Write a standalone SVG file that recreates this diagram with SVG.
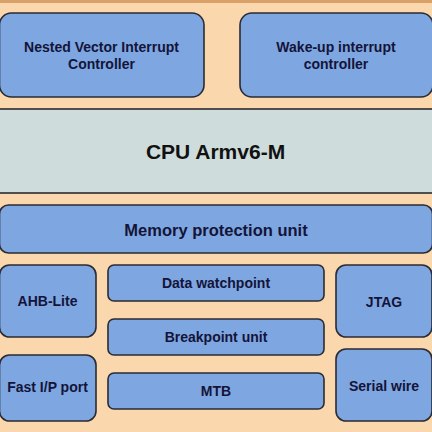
<svg xmlns="http://www.w3.org/2000/svg" width="432" height="432" viewBox="0 0 432 432">
<style>
.bx{fill:#7EA6E0;stroke:#2b2b33;stroke-width:1.6}
.t{font-family:"Liberation Sans",Arial,sans-serif;font-weight:bold;font-size:14px;fill:#14143a;text-anchor:middle}
</style>
<rect x="0" y="0" width="432" height="432" fill="#FAD7AC"/>
<rect x="0" y="0" width="432" height="3" fill="#D9A068"/>
<g id="connectors"/>
<g id="nvic">
<rect class="bx" x="-0.5" y="13" width="204.5" height="84" rx="12"/>
<text class="t" x="101.5" y="52">Nested Vector Interrupt</text>
<text class="t" x="101.5" y="69">Controller</text>
</g>
<g id="wic">
<rect class="bx" x="240" y="13" width="193" height="84" rx="12"/>
<text class="t" x="336" y="52">Wake-up interrupt</text>
<text class="t" x="336" y="69">controller</text>
</g>
<g id="cpu">
<rect x="-2" y="109" width="436" height="84" fill="#CFDCDC" stroke="#2b2b33" stroke-width="1.6"/>
<text x="215.5" y="158.5" style="font-family:'Liberation Sans',Arial,sans-serif;font-weight:bold;font-size:21px;fill:#111;text-anchor:middle">CPU Armv6-M</text>
</g>
<g id="mpu">
<rect class="bx" x="-0.5" y="205" width="433" height="48" rx="9"/>
<text class="t" x="216" y="236" style="font-size:16.5px">Memory protection unit</text>
</g>
<g id="ahb">
<rect class="bx" x="-0.5" y="265" width="96.5" height="72" rx="10"/>
<text class="t" x="47.5" y="306">AHB-Lite</text>
</g>
<g id="fastio">
<rect class="bx" x="-0.5" y="355" width="96.5" height="66" rx="10"/>
<text class="t" x="47.5" y="392">Fast I/P port</text>
</g>
<g id="dwt">
<rect class="bx" x="108" y="265" width="216" height="36" rx="6"/>
<text class="t" x="216" y="288">Data watchpoint</text>
</g>
<g id="bpu">
<rect class="bx" x="108" y="319" width="216" height="36" rx="6"/>
<text class="t" x="216" y="342">Breakpoint unit</text>
</g>
<g id="mtb">
<rect class="bx" x="108" y="373" width="216" height="36" rx="6"/>
<text class="t" x="216" y="396">MTB</text>
</g>
<g id="jtag">
<rect class="bx" x="336" y="265" width="96" height="72" rx="10"/>
<text class="t" x="384" y="307">JTAG</text>
</g>
<g id="swd">
<rect class="bx" x="336" y="349" width="96" height="72" rx="10"/>
<text class="t" x="384" y="391">Serial wire</text>
</g>
</svg>
